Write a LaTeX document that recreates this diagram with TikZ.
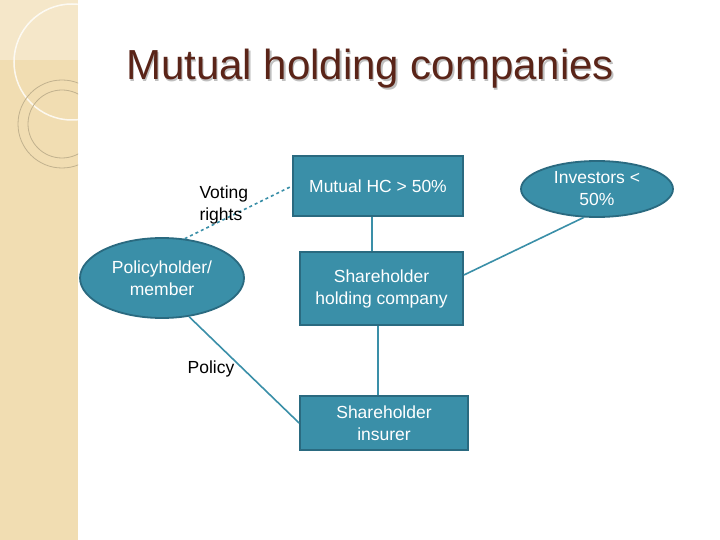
\documentclass[tikz,border=0pt]{standalone}
\usepackage{fontspec}
\setmainfont{Liberation Sans}
\usetikzlibrary{shapes.geometric}
\definecolor{teal1}{HTML}{3A8FA8}
\definecolor{teal2}{HTML}{2A6A80}
\definecolor{beige}{HTML}{F1DDB2}
\definecolor{titlec}{HTML}{5A2418}
\begin{document}
\begin{tikzpicture}[x=1pt,y=-1pt,
  box/.style={draw=teal2,line width=1.8pt,fill=teal1,text=white,font=\fontsize{17.5}{22}\selectfont,align=center,inner sep=0pt},
  oval/.style={ellipse,draw=teal2,line width=1.8pt,fill=teal1,text=white,font=\fontsize{17.5}{22}\selectfont,align=center,inner sep=0pt},
  link/.style={draw=teal1,line width=1.6pt},
  lbl/.style={font=\fontsize{17.5}{22}\selectfont,align=left}]
\useasboundingbox (0,0) rectangle (720,540);
\fill[white] (0,0) rectangle (720,540);
\fill[beige] (0,0) rectangle (78,540);
\begin{scope}
\clip (0,0) rectangle (78,540);
\draw[white,line width=1.5pt,opacity=0.8] (72,62) circle (58);
\draw[beige!80!black,line width=0.8pt] (62,124) circle (44);
\draw[beige!80!black,line width=0.8pt] (62,124) circle (34);
\fill[white,opacity=0.3] (0,0) rectangle (78,60);
\end{scope}
\node[text=gray!50,font=\fontsize{42}{48}\selectfont] at (371.5,70.5) {Mutual holding companies};
\node[text=titlec,font=\fontsize{42}{48}\selectfont] (title) at (370,69) {Mutual holding companies};
\node[box,minimum width=170,minimum height=60] (mhc) at (378,186) {Mutual HC > 50\%};
\node[box,minimum width=163,minimum height=73] (shc) at (381.5,288.5) {Shareholder\\holding company};
\node[box,minimum width=168,minimum height=54] (ins) at (384,423) {Shareholder\\insurer};
\node[oval,minimum width=164,minimum height=80] (ph) at (162,278) {Policyholder/\\member};
\node[oval,minimum width=152,minimum height=56] (inv) at (597,189) {Investors <\\50\%};
\draw[link,dashed] (ph.60) -- (mhc.west);
\draw[link] (mhc.south -| 372,0) -- (shc.north -| 372,0);
\draw[link] (shc.south -| 378,0) -- (ins.north -| 378,0);
\draw[link] (inv.-115) -- (shc.east |- 0,275);
\draw[link] (ph.-55) -- (ins.west);
\node[lbl,anchor=north west] (vr) at (196,182) {Voting\\rights};
\node[lbl] (pol) at (211,369) {Policy};
\end{tikzpicture}
\end{document}
